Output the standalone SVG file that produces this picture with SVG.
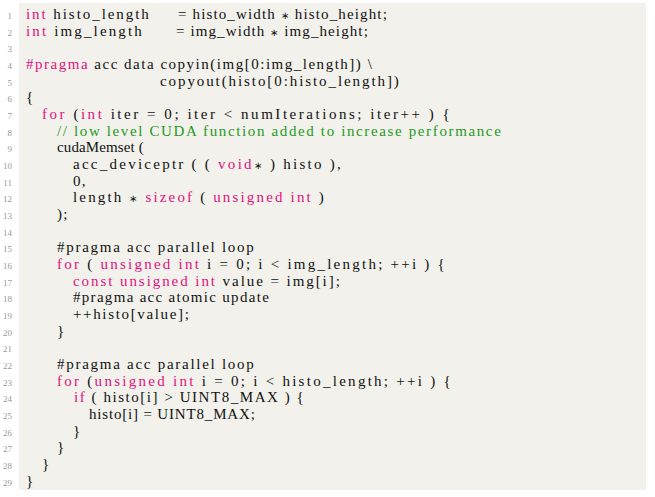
<svg xmlns="http://www.w3.org/2000/svg" width="655" height="497" viewBox="0 0 655 497">
<style>
.c{font-family:"Liberation Serif",serif;font-size:15px;letter-spacing:1.2px;fill:#111;white-space:pre}
.n{font-family:"Liberation Serif",serif;font-size:9px;fill:#999;text-anchor:end}
.k{fill:#e0127f}
.g{fill:#1d9a1d}
.s{font-size:10px}
</style>
<rect x="19" y="3" width="627" height="487" fill="#f2f1ec"/>
<g id="numbers">
<text class="n" x="12" y="19">1</text><text class="n" x="12" y="36">2</text><text class="n" x="12" y="52">3</text><text class="n" x="12" y="69">4</text><text class="n" x="12" y="86">5</text><text class="n" x="12" y="102">6</text><text class="n" x="12" y="119">7</text><text class="n" x="12" y="136">8</text><text class="n" x="12" y="152">9</text><text class="n" x="12" y="169">10</text><text class="n" x="12" y="186">11</text><text class="n" x="12" y="202">12</text><text class="n" x="12" y="219">13</text><text class="n" x="12" y="236">14</text><text class="n" x="12" y="252">15</text><text class="n" x="12" y="269">16</text><text class="n" x="12" y="286">17</text><text class="n" x="12" y="302">18</text><text class="n" x="12" y="319">19</text><text class="n" x="12" y="336">20</text><text class="n" x="12" y="352">21</text><text class="n" x="12" y="369">22</text><text class="n" x="12" y="386">23</text><text class="n" x="12" y="402">24</text><text class="n" x="12" y="419">25</text><text class="n" x="12" y="436">26</text><text class="n" x="12" y="452">27</text><text class="n" x="12" y="469">28</text><text class="n" x="12" y="486">29</text>
</g>
<g id="code">
<text class="c" x="26" y="19" textLength="124" lengthAdjust="spacing"><tspan class="k">int</tspan> histo_length</text>
<text class="c" x="178" y="19" textLength="210" lengthAdjust="spacing">= histo_width <tspan class="s">∗</tspan> histo_height;</text>
<text class="c" x="26" y="36" textLength="117" lengthAdjust="spacing"><tspan class="k">int</tspan> img_length</text>
<text class="c" x="176" y="36" textLength="193" lengthAdjust="spacing">= img_width <tspan class="s">∗</tspan> img_height;</text>
<text class="c" x="26" y="69" textLength="347" lengthAdjust="spacing"><tspan class="k">#pragma</tspan> acc data copyin(img[0:img_length]) \</text>
<text class="c" x="160" y="86" textLength="240" lengthAdjust="spacing">copyout(histo[0:histo_length])</text>
<text class="c" x="26" y="102">{</text>
<text class="c" x="42" y="119" textLength="409" lengthAdjust="spacing"><tspan class="k">for</tspan> (<tspan class="k">int</tspan> iter = 0; iter &lt; numIterations; iter++ ) {</text>
<text class="c g" x="57" y="136" textLength="445" lengthAdjust="spacing">// low level CUDA function added to increase performance</text>
<text class="c" x="57" y="152" textLength="88" lengthAdjust="spacing">cudaMemset (</text>
<text class="c" x="73" y="169" textLength="269" lengthAdjust="spacing">acc_deviceptr ( ( <tspan class="k">void</tspan><tspan class="s">∗</tspan> ) histo ),</text>
<text class="c" x="73" y="186">0,</text>
<text class="c" x="73" y="202" textLength="252" lengthAdjust="spacing">length <tspan class="s">∗</tspan> <tspan class="k">sizeof</tspan> ( <tspan class="k">unsigned int</tspan> )</text>
<text class="c" x="57" y="219">);</text>
<text class="c" x="57" y="252" textLength="198" lengthAdjust="spacing">#pragma acc parallel loop</text>
<text class="c" x="57" y="269" textLength="389" lengthAdjust="spacing"><tspan class="k">for</tspan> ( <tspan class="k">unsigned int</tspan> i = 0; i &lt; img_length; ++i ) {</text>
<text class="c" x="73" y="286" textLength="268" lengthAdjust="spacing"><tspan class="k">const unsigned int</tspan> value = img[i];</text>
<text class="c" x="73" y="302" textLength="197" lengthAdjust="spacing">#pragma acc atomic update</text>
<text class="c" x="73" y="319" textLength="117" lengthAdjust="spacing">++histo[value];</text>
<text class="c" x="57" y="336">}</text>
<text class="c" x="57" y="369" textLength="198" lengthAdjust="spacing">#pragma acc parallel loop</text>
<text class="c" x="57" y="386" textLength="395" lengthAdjust="spacing"><tspan class="k">for</tspan> (<tspan class="k">unsigned int</tspan> i = 0; i &lt; histo_length; ++i ) {</text>
<text class="c" x="74" y="402" textLength="231" lengthAdjust="spacing"><tspan class="k">if</tspan> ( histo[i] &gt; UINT8_MAX ) {</text>
<text class="c" x="89" y="419" textLength="167" lengthAdjust="spacing">histo[i] = UINT8_MAX;</text>
<text class="c" x="73" y="436">}</text>
<text class="c" x="57" y="452">}</text>
<text class="c" x="42" y="469">}</text>
<text class="c" x="26" y="486">}</text>
</g>
</svg>
